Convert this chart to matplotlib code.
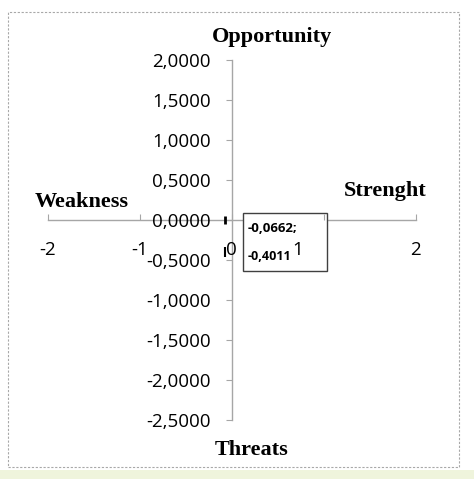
import matplotlib
matplotlib.use("Agg")
import matplotlib.pyplot as plt
from matplotlib.patches import Rectangle
from matplotlib.transforms import ScaledTranslation

# data
point_x = [-0.0662]
point_y = [-0.4011]
point_label = ["-0,0662;", "-0,4011"]
x_ticks = [-2, -1, 0, 1, 2]
y_ticks = [2.0, 1.5, 1.0, 0.5, 0.0, -0.5, -1.0, -1.5, -2.0, -2.5]
quadrants = {"top": "Opportunity", "bottom": "Threats",
             "left": "Weakness", "right": "Strenght"}

sans = ["Open Sans", "DejaVu Sans"]
serif = ["Liberation Serif", "DejaVu Serif"]

W, H = 474, 479
fig = plt.figure(figsize=(W / 100, H / 100), dpi=100)

# outer frame and bottom band
fig.patches.append(Rectangle((0, 0), 1, 9 / H, transform=fig.transFigure,
                             facecolor="#eff4dc", edgecolor="none", zorder=0))
fig.patches.append(Rectangle((8 / W, 1 - 467 / H), 451 / W, 455 / H,
                             transform=fig.transFigure, fill=False,
                             edgecolor="#a8a8a8", linestyle=(0, (2, 1.5)),
                             linewidth=0.8, zorder=1))

ax = fig.add_axes([47.5 / W, 1 - 420 / H, 368 / W, 360 / H])
ax.set_xlim(-2, 2)
ax.set_ylim(-2.5, 2.0)
ax.patch.set_alpha(0)

for s in ["top", "right"]:
    ax.spines[s].set_visible(False)
ax.spines["left"].set_position(("data", 0))
ax.spines["bottom"].set_position(("data", 0))
for s in ["left", "bottom"]:
    ax.spines[s].set_color("#a6a6a6")
    ax.spines[s].set_linewidth(1.0)
    ax.spines[s].set_zorder(1)

ax.set_xticks(x_ticks)
ax.set_xticklabels([str(v) for v in x_ticks], fontfamily=sans, fontsize=13.5)
ax.set_yticks(y_ticks)
ax.set_yticklabels([f"{v:.4f}".replace(".", ",") for v in y_ticks],
                   fontfamily=sans, fontsize=13.5)
ax.tick_params(axis="x", direction="in", length=4, color="#a6a6a6", pad=15)
ax.tick_params(axis="y", direction="out", length=4, color="#a6a6a6", pad=11)
ax.xaxis.set_zorder(4)

# the "1" label sits shifted left inside the data label box
lab1 = ax.get_xticklabels()[3]
lab1.set_transform(lab1.get_transform() + ScaledTranslation(-0.26, 0, fig.dpi_scale_trans))

# data point
ax.plot(point_x, point_y, marker="|", markersize=7, markeredgewidth=1.5,
        color="black", linestyle="none", zorder=3)
ax.plot(point_x, [0.0], marker="|", markersize=6, markeredgewidth=2.0,
        color="black", linestyle="none", zorder=3)

# data label box (inside the axes so the "1" tick label stays on top)
ax.add_patch(Rectangle((243 / W, 1 - 271 / H), 84 / W, 58 / H,
                       transform=fig.transFigure, facecolor="white",
                       edgecolor="#404040", linewidth=1.0, zorder=2,
                       clip_on=False))
ax.text(248 / W, 1 - 229 / H, point_label[0], transform=fig.transFigure,
        ha="left", va="center", fontsize=9.5, fontweight="bold",
        fontfamily=sans, zorder=3)
ax.text(248 / W, 1 - 257 / H, point_label[1], transform=fig.transFigure,
        ha="left", va="center", fontsize=9, fontweight="bold",
        fontfamily=sans, zorder=3)

# quadrant labels
fig.text(272 / W, 1 - 37 / H, quadrants["top"], ha="center", va="center",
         fontsize=16, fontweight="bold", fontfamily=serif)
fig.text(252 / W, 1 - 450 / H, quadrants["bottom"], ha="center", va="center",
         fontsize=16, fontweight="bold", fontfamily=serif)
fig.text(82 / W, 1 - 202 / H, quadrants["left"], ha="center", va="center",
         fontsize=16, fontweight="bold", fontfamily=serif)
fig.text(385 / W, 1 - 191 / H, quadrants["right"], ha="center", va="center",
         fontsize=16, fontweight="bold", fontfamily=serif)

fig.savefig("out.png", dpi=100)
